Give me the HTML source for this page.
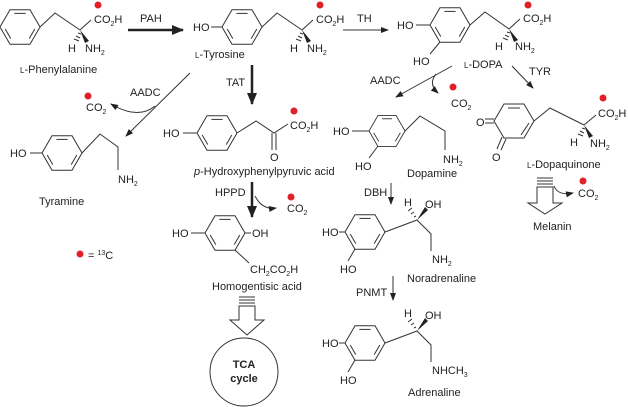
<!DOCTYPE html>
<html><head><meta charset="utf-8"><style>
html,body{margin:0;padding:0;background:#fff;}
svg{display:block;}
text{font-family:"Liberation Sans",sans-serif;font-size:11px;fill:#222;}
.s{font-size:7px;}
line,polyline,path,polygon.r{stroke:#333;stroke-width:1;fill:none;}
</style></head><body>
<svg width="628" height="407" viewBox="0 0 628 407" xmlns="http://www.w3.org/2000/svg">
<defs>
<marker id="ah" markerWidth="8" markerHeight="6" refX="7" refY="3" orient="auto" markerUnits="userSpaceOnUse"><path d="M0,0 L8,3 L0,6 Z" style="fill:#222;stroke:none"/></marker>
<marker id="ahb" markerWidth="12" markerHeight="10" refX="11" refY="5" orient="auto" markerUnits="userSpaceOnUse"><path d="M0,0 L12,5 L0,10 Z" style="fill:#222;stroke:none"/></marker>
<g id="bz"><polygon class="r" points="20,0 10,17.3 -10,17.3 -20,0 -10,-17.3 10,-17.3"/><line x1="-5.6" y1="-13.6" x2="5.6" y2="-13.6"/><line x1="14.8" y1="2" x2="9.2" y2="11.6"/><line x1="-9.2" y1="11.6" x2="-14.8" y2="2"/></g>
</defs>

<!-- Phenylalanine -->
<use href="#bz" x="20" y="27"/>
<polyline points="40,27 55,13 80,30"/>
<line x1="80" y1="30" x2="91" y2="20"/>
<text x="94" y="23">CO<tspan class="s" dy="3">2</tspan><tspan dy="-3">H</tspan></text>
<circle cx="98" cy="5" r="3.5" fill="#e0202a"/>
<polygon points="80,30 85,43 89,41" fill="#222"/>
<g stroke="#333"><line x1="78" y1="33" x2="81" y2="34"/><line x1="76" y1="36" x2="80" y2="38"/><line x1="74" y1="39" x2="79" y2="41"/></g>
<text x="68" y="52">H</text><text x="85" y="52">NH<tspan class="s" dy="3">2</tspan></text>
<text x="20" y="73"><tspan font-size="8">L</tspan>-Phenylalanine</text>

<!-- PAH -->
<line x1="128" y1="30" x2="183" y2="30" style="stroke:#222;stroke-width:2.5" marker-end="url(#ahb)"/>
<text x="140" y="22">PAH</text>

<!-- Tyrosine -->
<use href="#bz" x="242" y="27"/>
<line x1="211" y1="27" x2="222" y2="27"/>
<text x="193" y="31">HO</text>
<polyline points="262,27 277,13 302,30"/>
<line x1="302" y1="30" x2="313" y2="20"/>
<text x="316" y="23">CO<tspan class="s" dy="3">2</tspan><tspan dy="-3">H</tspan></text>
<circle cx="320" cy="5" r="3.5" fill="#e0202a"/>
<polygon points="302,30 307,43 311,41" fill="#222"/>
<g stroke="#333"><line x1="300" y1="33" x2="303" y2="34"/><line x1="298" y1="36" x2="302" y2="38"/><line x1="296" y1="39" x2="301" y2="41"/></g>
<text x="290" y="52">H</text><text x="307" y="52">NH<tspan class="s" dy="3">2</tspan></text>
<text x="195" y="58"><tspan font-size="8">L</tspan>-Tyrosine</text>

<!-- TH -->
<line x1="343" y1="30" x2="388" y2="30" marker-end="url(#ah)"/>
<text x="357" y="22">TH</text>

<!-- L-DOPA -->
<use href="#bz" x="450" y="25"/>
<line x1="416" y1="25" x2="430" y2="25"/>
<text x="397" y="29">HO</text>
<line x1="440" y1="42" x2="430" y2="54"/>
<text x="413" y="65">HO</text>
<polyline points="470,25 485,12 509,29"/>
<line x1="509" y1="29" x2="520" y2="19"/>
<text x="523" y="22">CO<tspan class="s" dy="3">2</tspan><tspan dy="-3">H</tspan></text>
<circle cx="528" cy="5" r="3.5" fill="#e0202a"/>
<polygon points="509,29 514,42 518,40" fill="#222"/>
<g stroke="#333"><line x1="507" y1="32" x2="510" y2="33"/><line x1="505" y1="35" x2="509" y2="37"/><line x1="503" y1="38" x2="508" y2="40"/></g>
<text x="495" y="50">H</text><text x="515" y="50">NH<tspan class="s" dy="3">2</tspan></text>
<text x="464" y="68"><tspan font-size="8">L</tspan>-DOPA</text>

<!-- AADC from DOPA -->
<line x1="452" y1="66" x2="396" y2="97" marker-end="url(#ah)"/>
<text x="370" y="84">AADC</text>
<path d="M436,74 Q428,84 438,93" marker-end="url(#ah)"/>
<circle cx="453" cy="87" r="3.5" fill="#e0202a"/>
<text x="451" y="107">CO<tspan class="s" dy="3">2</tspan></text>

<!-- TYR -->
<line x1="512" y1="66" x2="533" y2="88" marker-end="url(#ah)"/>
<text x="529" y="75">TYR</text>

<!-- Dopaquinone -->
<polygon class="r" points="534,121 524,138 504,138 494,121 504,104 524,104"/>
<line x1="508" y1="108" x2="520" y2="108"/>
<line x1="529" y1="123" x2="521" y2="135"/>
<line x1="494" y1="119" x2="485" y2="119"/><line x1="494" y1="123" x2="485" y2="123"/>
<text x="476" y="126">O</text>
<line x1="502" y1="137" x2="497" y2="149"/><line x1="506" y1="139" x2="501" y2="150"/>
<text x="492" y="161">O</text>
<polyline points="534,121 550,108 584,125"/>
<line x1="584" y1="125" x2="596" y2="115"/>
<text x="598" y="117">CO<tspan class="s" dy="3">2</tspan><tspan dy="-3">H</tspan></text>
<circle cx="603" cy="98" r="3.5" fill="#e0202a"/>
<polygon points="584,125 589,138 593,136" fill="#222"/>
<g stroke="#333"><line x1="582" y1="128" x2="585" y2="129"/><line x1="580" y1="131" x2="584" y2="133"/><line x1="578" y1="134" x2="583" y2="136"/></g>
<text x="570" y="146">H</text><text x="590" y="147">NH<tspan class="s" dy="3">2</tspan></text>
<text x="527" y="168"><tspan font-size="8">L</tspan>-Dopaquinone</text>

<!-- Melanin open arrow -->
<g stroke="#333" fill="none">
<line x1="537" y1="178" x2="553" y2="178"/><line x1="537" y1="181" x2="553" y2="181"/><line x1="537" y1="184" x2="553" y2="184"/>
<path d="M537,187 L553,187 L553,203 L562,203 L545,214 L528,203 L537,203 Z" style="fill:#fff"/>
</g>
<path d="M554,186 Q558,196 573,193" marker-end="url(#ah)"/>
<circle cx="583" cy="181" r="3.5" fill="#e0202a"/>
<text x="578" y="197">CO<tspan class="s" dy="3">2</tspan></text>
<text x="533" y="230">Melanin</text>

<!-- AADC Tyr -> Tyramine -->
<line x1="190" y1="73" x2="126" y2="136" marker-end="url(#ah)"/>
<text x="130" y="96">AADC</text>
<path d="M155,106 Q138,120 111,104" marker-end="url(#ah)"/>
<circle cx="88" cy="96" r="3.5" fill="#e0202a"/>
<text x="86" y="111">CO<tspan class="s" dy="3">2</tspan></text>

<!-- Tyramine -->
<use href="#bz" x="62" y="153"/>
<line x1="30" y1="153" x2="42" y2="153"/>
<text x="10" y="157">HO</text>
<polyline points="82,153 100,134 118,147 118,170"/>
<text x="118" y="183">NH<tspan class="s" dy="3">2</tspan></text>
<text x="39" y="205">Tyramine</text>

<!-- legend -->
<circle cx="80" cy="254" r="3.5" fill="#e0202a"/>
<text x="88" y="259">= <tspan class="s" dy="-4">13</tspan><tspan dy="4">C</tspan></text>

<!-- TAT -->
<line x1="252" y1="65" x2="252" y2="104" style="stroke:#222;stroke-width:2.5" marker-end="url(#ahb)"/>
<text x="226" y="86">TAT</text>

<!-- pHPP -->
<use href="#bz" x="217" y="133"/>
<line x1="183" y1="133" x2="197" y2="133"/>
<text x="163" y="137">HO</text>
<polyline points="237,133 256,121 274,133 288,124"/>
<line x1="272" y1="133" x2="272" y2="150"/><line x1="276" y1="133" x2="276" y2="150"/>
<text x="270" y="161">O</text>
<text x="290" y="129">CO<tspan class="s" dy="3">2</tspan><tspan dy="-3">H</tspan></text>
<circle cx="294" cy="111" r="3.5" fill="#e0202a"/>
<text x="194" y="175"><tspan font-style="italic">p</tspan>-Hydroxyphenylpyruvic acid</text>

<!-- HPPD -->
<line x1="252" y1="182" x2="252" y2="217" style="stroke:#222;stroke-width:2.5" marker-end="url(#ahb)"/>
<text x="215" y="196">HPPD</text>
<path d="M255,196 Q262,210 276,208" marker-end="url(#ah)"/>
<circle cx="291" cy="197" r="3.5" fill="#e0202a"/>
<text x="287" y="212">CO<tspan class="s" dy="3">2</tspan></text>

<!-- Homogentisic -->
<use href="#bz" x="225" y="233"/>
<line x1="191" y1="233" x2="205" y2="233"/>
<text x="172" y="237">HO</text>
<line x1="245" y1="233" x2="251" y2="233"/>
<text x="252" y="237">OH</text>
<line x1="235" y1="250" x2="249" y2="263"/>
<text x="250" y="273">CH<tspan class="s" dy="3">2</tspan><tspan dy="-3">CO</tspan><tspan class="s" dy="3">2</tspan><tspan dy="-3">H</tspan></text>
<text x="212" y="290">Homogentisic acid</text>

<!-- open arrow to TCA -->
<g stroke="#333" fill="none">
<line x1="239" y1="297" x2="255" y2="297"/><line x1="239" y1="300" x2="255" y2="300"/><line x1="239" y1="303" x2="255" y2="303"/>
<path d="M239,306 L255,306 L255,320 L264,320 L247,335 L230,320 L239,320 Z" style="fill:#fff"/>
<circle cx="244" cy="372" r="34"/>
</g>
<text x="244" y="368" text-anchor="middle" font-weight="bold">TCA</text>
<text x="244" y="382" text-anchor="middle" font-weight="bold">cycle</text>

<!-- Dopamine -->
<use href="#bz" x="387" y="131" transform="translate(387 131) scale(0.9) translate(-387 -131)"/>
<line x1="352" y1="131" x2="369" y2="131"/>
<text x="333" y="135">HO</text>
<line x1="378" y1="146" x2="369" y2="158"/>
<text x="355" y="170">HO</text>
<polyline points="405,131 420,116 445,131 445,150"/>
<text x="443" y="163">NH<tspan class="s" dy="3">2</tspan></text>
<text x="407" y="177">Dopamine</text>

<!-- DBH -->
<line x1="391" y1="183" x2="391" y2="204" marker-end="url(#ah)"/>
<text x="364" y="196">DBH</text>

<!-- Noradrenaline -->
<use href="#bz" x="365" y="232"/>
<line x1="339" y1="232" x2="345" y2="232"/>
<text x="322" y="236">HO</text>
<line x1="355" y1="249" x2="348" y2="261"/>
<text x="340" y="273">HO</text>
<polyline points="385,232 417,220 431,234 431,251"/>
<polygon points="417,220 425,207 428,210" fill="#222"/>
<g stroke="#333"><line x1="414" y1="217" x2="416" y2="216"/><line x1="411" y1="214" x2="414" y2="212"/><line x1="408" y1="211" x2="412" y2="208"/></g>
<text x="404" y="206">H</text><text x="425" y="208">OH</text>
<text x="432" y="263">NH<tspan class="s" dy="3">2</tspan></text>
<text x="407" y="282">Noradrenaline</text>

<!-- PNMT -->
<line x1="393" y1="276" x2="393" y2="300" marker-end="url(#ah)"/>
<text x="356" y="296">PNMT</text>

<!-- Adrenaline -->
<use href="#bz" x="365" y="343"/>
<line x1="339" y1="343" x2="345" y2="343"/>
<text x="322" y="347">HO</text>
<line x1="355" y1="360" x2="348" y2="372"/>
<text x="340" y="384">HO</text>
<polyline points="385,343 417,331 431,345 431,362"/>
<polygon points="417,331 425,318 428,321" fill="#222"/>
<g stroke="#333"><line x1="414" y1="328" x2="416" y2="327"/><line x1="411" y1="325" x2="414" y2="323"/><line x1="408" y1="322" x2="412" y2="319"/></g>
<text x="404" y="317">H</text><text x="425" y="319">OH</text>
<text x="432" y="374">NHCH<tspan class="s" dy="3">3</tspan></text>
<text x="408" y="396">Adrenaline</text>
</svg>
</body></html>
